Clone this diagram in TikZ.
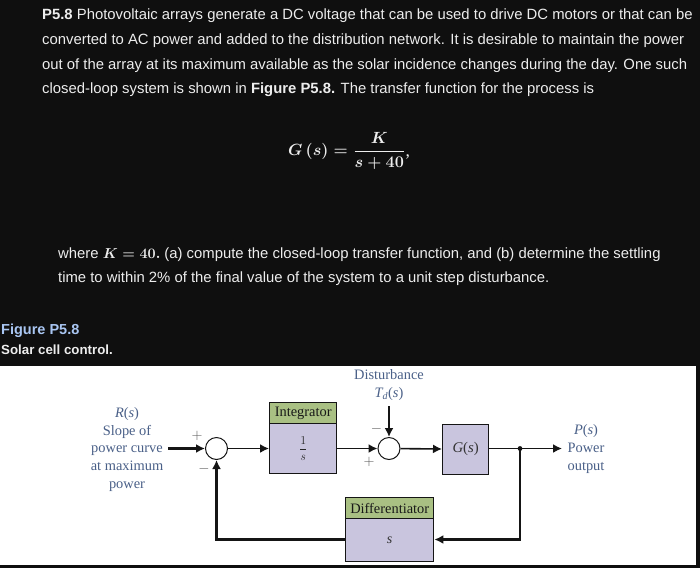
\documentclass[tikz,border=0pt]{standalone}
\usepackage{amsmath}
\usepackage{fontspec}
\setmainfont{Liberation Serif}
\setsansfont{Liberation Sans}
\usetikzlibrary{arrows.meta,calc}
\definecolor{pagebg}{HTML}{0F0F0F}
\definecolor{boxfill}{HTML}{C9C5DE}
\definecolor{headfill}{HTML}{A9C083}
\definecolor{linecol}{HTML}{151515}
\definecolor{labelblue}{HTML}{4A6088}
\definecolor{figblue}{HTML}{A9C6F2}
\definecolor{bodytext}{HTML}{EDEDED}
\tikzset{
  x=1pt,y=-1pt,
  bodyline/.style={anchor=base west,inner sep=0,text=bodytext,font=\sffamily\fontsize{14.85}{16}\selectfont},
  blockbox/.style={draw=linecol,line width=1.4pt,fill=boxfill,inner sep=0,anchor=north west},
  headbox/.style={draw=linecol,line width=1.4pt,fill=headfill,inner sep=0,anchor=north west,font=\fontsize{14.4}{15}\selectfont,text=black!90},
  sumnode/.style={circle,draw=linecol,line width=1pt,fill=white,minimum size=22pt,inner sep=0},
  diaglabel/.style={align=center,inner sep=0,text=labelblue,font=\fontsize{14.4}{17.8}\selectfont},
  signlabel/.style={inner sep=0,text=black!65,font=\fontsize{14}{14}\selectfont},
  sig/.style={draw=linecol,line width=1.6pt,-{Latex[length=9pt,width=9pt]}},
  wire/.style={draw=linecol,line width=1.6pt},
  thick sig/.style={draw=linecol,line width=2.1pt,-{Latex[length=9pt,width=9pt]}},
}
\begin{document}
\begin{tikzpicture}
\useasboundingbox (0,0) rectangle (700,568);
\fill[pagebg] (0,0) rectangle (700,568);
\fill[white] (0,366) rectangle (696,565);

\node[bodyline] (l1) at (42,19) {\textbf{P5.8} Photovoltaic arrays generate a DC voltage that can be used to drive DC motors or that can be};
\node[bodyline] (l2) at (42,44) {converted to AC power and added to the distribution network. It is desirable to maintain the power};
\node[bodyline] (l3) at (42,69) {out of the array at its maximum available as the solar incidence changes during the day. One such};
\node[bodyline] (l4) at (42,93) {closed-loop system is shown in \textbf{Figure P5.8.} The transfer function for the process is};
\node[anchor=west,inner sep=0,text=bodytext,font=\fontsize{13}{15}\selectfont\boldmath] (eq) at (288,151) {\scalebox{1.35}{$G\,(s)=\dfrac{K}{s+40}$\raisebox{-1pt}{,}}};
\node[bodyline] (l5) at (58,258) {where {\rmfamily\boldmath\fontsize{15.5}{16}\selectfont$K=40.$} (a) compute the closed-loop transfer function, and (b) determine the settling};
\node[bodyline] (l6) at (58,282) {time to within 2\% of the final value of the system to a unit step disturbance.};
\node[anchor=base west,inner sep=0,text=figblue,font=\sffamily\bfseries\fontsize{14.5}{16}\selectfont] (figt) at (1,334) {Figure P5.8};
\node[anchor=base west,inner sep=0,text=bodytext,font=\sffamily\bfseries\fontsize{13.3}{14}\selectfont] (figc) at (1,354) {Solar cell control.};

% blocks
\node[blockbox,minimum width=67pt,minimum height=50pt] (intb) at (269,423) {};
\node[headbox,minimum width=67pt,minimum height=21pt] (inth) at (269,402) {Integrator};
\node[font=\fontsize{13}{14}\selectfont,text=black!85,inner sep=0] (intv) at (intb.center) {$\dfrac{1}{s}$};
\node[blockbox,minimum width=46pt,minimum height=50pt] (gb) at (442,423.5) {};
\node[text=black!80,font=\fontsize{14.8}{15}\selectfont,inner sep=0] (gv) at (gb.center) {\textit{G}(\textit{s})};
\node[blockbox,minimum width=88pt,minimum height=43pt] (db) at (345,518) {};
\node[headbox,minimum width=88pt,minimum height=21pt] (dh) at (345,497) {Differentiator};
\node[font=\fontsize{14}{14}\selectfont\itshape,text=black!80,inner sep=0] (dv) at (db.center) {s};
\node[sumnode] (s1) at (216.5,448.5) {};
\node[sumnode] (s2) at (389,448.5) {};

% labels
\node[diaglabel] (rl) at (127,449.5) {\textit{R}(\textit{s})\\Slope of\\power curve\\at maximum\\power};
\node[diaglabel] (dl) at (389,385) {Disturbance\\\textit{T\textsubscript{d}}(\textit{s})};
\node[diaglabel] (pl) at (586,449) {\textit{P}(\textit{s})\\Power\\output};
\node[signlabel] (p1) at (197,436) {$+$};
\node[signlabel] (m1) at (204,469) {$-$};
\node[signlabel] (m2) at (376.5,429) {$-$};
\node[signlabel] (p2) at (369,461.5) {$+$};

% connectors
\coordinate (rin) at (168,448.5);
\coordinate (dtop) at (389,406);
\coordinate (pout) at (562,448.5);
\coordinate (jn) at (520,448.5);
\coordinate (fbr) at (520,539.5);
\coordinate (fbl) at (216.5,539.5);
\draw[thick sig] (rin) -- (s1);
\draw[sig] (s1) -- (intb.west |- s1);
\draw[sig] (intb.east |- s2) -- (s2);
\draw[thick sig] (dtop) -- (s2);
\draw[sig] (s2) -- (gb);
\draw[wire] (gb.east |- jn) -- (jn);
\draw[sig] (jn) -- (pout);
\fill[linecol] (jn) circle (2.4pt);
\draw[thick sig] (jn) -- (fbr) -- (db.east |- fbr);
\draw[thick sig] (db.west |- fbl) -- (fbl) -- (s1);
\end{tikzpicture}
\end{document}
